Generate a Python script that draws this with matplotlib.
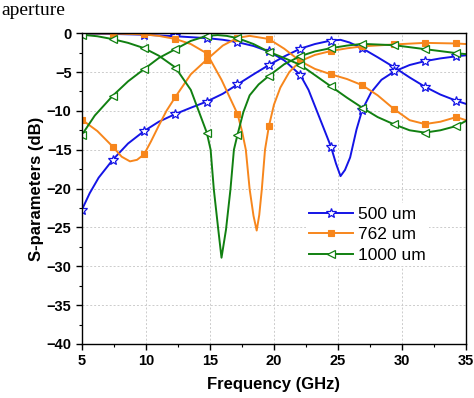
import numpy as np
import matplotlib
matplotlib.use("Agg")
import matplotlib.pyplot as plt

plt.rcParams["font.family"] = ["Liberation Sans", "DejaVu Sans"]

# ── DATA ─────────────────────────────────────────────────────────────────────
MARK_F = [5.0, 7.4, 9.85, 12.3, 14.75, 17.15, 19.6, 22.05, 24.45, 26.9, 29.4, 31.8, 34.25]

# 500 um
f_500a  = [5.0, 5.6, 6.3, 7.4, 8.6, 9.85, 11.0, 12.3, 13.5, 14.75, 16.0, 17.15, 18.4, 19.6,
           20.8, 22.05, 23.2, 24.45, 25.2, 25.9, 26.9, 28.1, 29.4, 30.6, 31.8, 33.0, 34.25, 35.0]
db_500a = [-22.7, -20.6, -18.6, -16.3, -14.2, -12.6, -11.4, -10.4, -9.6, -8.8, -7.8, -6.6, -5.3, -4.1,
           -3.0, -2.0, -1.4, -0.95, -0.86, -1.2, -1.95, -3.1, -4.4, -5.7, -6.9, -7.9, -8.7, -9.1]
f_500b  = [5.0, 7.4, 9.85, 12.3, 14.75, 16.0, 17.15, 18.4, 19.6, 20.8, 22.05, 22.7, 23.3, 23.9,
           24.45, 24.85, 25.2, 25.55, 25.95, 26.45, 26.9, 27.6, 28.4, 29.4, 30.6, 31.8, 33.0, 34.25, 35.0]
db_500b = [-0.05, -0.1, -0.2, -0.4, -0.64, -0.85, -1.16, -1.65, -2.36, -3.5, -5.36, -7.3, -9.8, -12.3,
           -14.6, -16.8, -18.4, -17.6, -16.0, -12.4, -9.86, -7.6, -6.0, -4.93, -4.1, -3.6, -3.25, -2.98, -2.85]

# 762 um
f_762a  = [5.0, 6.2, 7.4, 8.1, 8.75, 9.3, 9.85, 10.4, 11.0, 11.6, 12.3, 13.5, 14.75, 16.0, 17.15,
           18.1, 19.6, 20.8, 22.05, 23.2, 24.45, 25.7, 26.9, 28.1, 29.4, 30.6, 31.8, 33.0, 34.25, 35.0]
db_762a = [-11.15, -12.6, -14.6, -15.9, -16.5, -16.3, -15.6, -13.9, -11.9, -10.0, -8.2, -5.3, -3.4, -1.6, -0.6,
           -0.35, -0.75, -2.0, -3.6, -4.6, -5.3, -5.9, -6.7, -8.0, -9.8, -11.2, -11.7, -11.4, -10.8, -11.2]
f_762b  = [5.0, 7.4, 9.85, 11.0, 12.3, 13.5, 14.75, 15.9, 17.15, 17.5, 17.8, 18.1, 18.4, 18.65,
           18.85, 19.05, 19.3, 19.6, 20.0, 20.5, 21.2, 22.05, 23.2, 24.45, 25.7, 26.9, 29.4, 31.8, 34.25, 35.0]
db_762b = [-0.02, -0.05, -0.15, -0.35, -0.75, -1.4, -2.6, -6.0, -10.4, -12.6, -15.0, -20.1, -23.5, -25.4,
           -23.4, -20.1, -15.0, -12.0, -9.2, -7.0, -5.0, -3.6, -2.8, -2.3, -1.95, -1.7, -1.45, -1.25, -1.33, -1.4]

# 1000 um
f_1000a  = [5.0, 6.0, 7.4, 8.6, 9.85, 11.0, 12.3, 13.5, 14.75, 15.6, 16.3, 17.15, 18.4, 19.6, 20.8,
            22.05, 23.2, 24.45, 25.7, 26.9, 28.1, 29.4, 30.6, 31.8, 33.0, 34.25, 35.0]
db_1000a = [-13.07, -10.6, -8.06, -6.2, -4.63, -3.2, -2.06, -1.0, -0.35, -0.25, -0.35, -0.64, -1.4, -2.4, -3.2,
            -4.07, -5.4, -6.85, -8.3, -9.6, -10.8, -11.75, -12.5, -12.8, -12.5, -11.95, -11.3]
f_1000b  = [5.0, 6.2, 7.4, 8.6, 9.85, 11.0, 12.3, 13.5, 14.75, 15.05, 15.3, 15.65, 15.9, 16.25,
            16.6, 16.87, 17.15, 17.6, 18.1, 18.8, 19.6, 20.8, 22.05, 23.2, 24.45, 25.7, 26.9, 29.4, 31.8, 34.25, 35.0]
db_1000b = [-0.2, -0.4, -0.77, -1.25, -1.93, -2.9, -4.42, -7.3, -12.8, -15.0, -20.1, -25.3, -28.9, -25.3,
            -20.1, -15.0, -13.07, -10.2, -8.0, -6.6, -5.5, -4.0, -2.96, -2.35, -1.93, -1.6, -1.38, -1.55, -2.06, -2.57, -2.7]

SERIES = [
    ("500 um",  f_500a,  db_500a,  f_500b,  db_500b,  "#1414e6", dict(marker="*", ms=7, mfc="white", mew=0.9)),
    ("762 um",  f_762a,  db_762a,  f_762b,  db_762b,  "#f7861c", dict(marker="s", ms=4.5, mfc="#f7861c", mew=0.8)),
    ("1000 um", f_1000a, db_1000a, f_1000b, db_1000b, "#118011", dict(marker="<", ms=6, mfc="white", mew=0.9)),
]


def mark_idx(freqs):
    return [i for i, f in enumerate(freqs) if np.any(np.isclose(f, MARK_F))]


fig = plt.figure(figsize=(4.74, 3.98), dpi=100)
ax = fig.add_axes([0.173, 0.1357, 0.810, 0.781])

for label, fa, da, fb, db, col, mk in SERIES:
    ax.plot(fa, da, color=col, lw=1.4, markevery=mark_idx(fa), mec=col, label=label, **mk)
    ax.plot(fb, db, color=col, lw=1.4, markevery=mark_idx(fb), mec=col, **mk)

ax.set_xlim(5, 35)
ax.set_ylim(-40, 0)
ax.set_xticks(range(5, 36, 5))
ax.set_yticks(range(-40, 1, 5))
ax.set_xticks(np.arange(7.5, 35, 5), minor=True)
ax.set_yticks(np.arange(-37.5, 0, 5), minor=True)
ax.grid(True, which="major", color="#cccccc", ls=(0, (2, 2)), lw=0.7)
ax.tick_params(which="major", direction="out", length=4, width=1.0, labelsize=10.5)
ax.tick_params(which="minor", direction="out", length=2.5, width=0.8)
for lab in ax.get_xticklabels() + ax.get_yticklabels():
    lab.set_fontweight("bold")
for sp in ax.spines.values():
    sp.set_linewidth(1.0)

ax.set_xlabel("Frequency (GHz)", fontsize=12, fontweight="bold", labelpad=6)
ax.set_ylabel("S-parameters (dB)", fontsize=12, fontweight="bold", labelpad=2)

leg = ax.legend(loc="upper left", bbox_to_anchor=(0.56, 0.48), frameon=True, fontsize=12.5,
                handlelength=2.5, handletextpad=0.3, labelspacing=0.3, borderpad=0.2)
leg.get_frame().set_edgecolor("none")
leg.get_frame().set_facecolor("white")
leg.get_frame().set_alpha(1.0)

fig.text(0.002, 0.996, "aperture", family=["Liberation Serif", "DejaVu Serif"], fontsize=14,
         va="top", ha="left")

fig.savefig("out.png", dpi=100)
